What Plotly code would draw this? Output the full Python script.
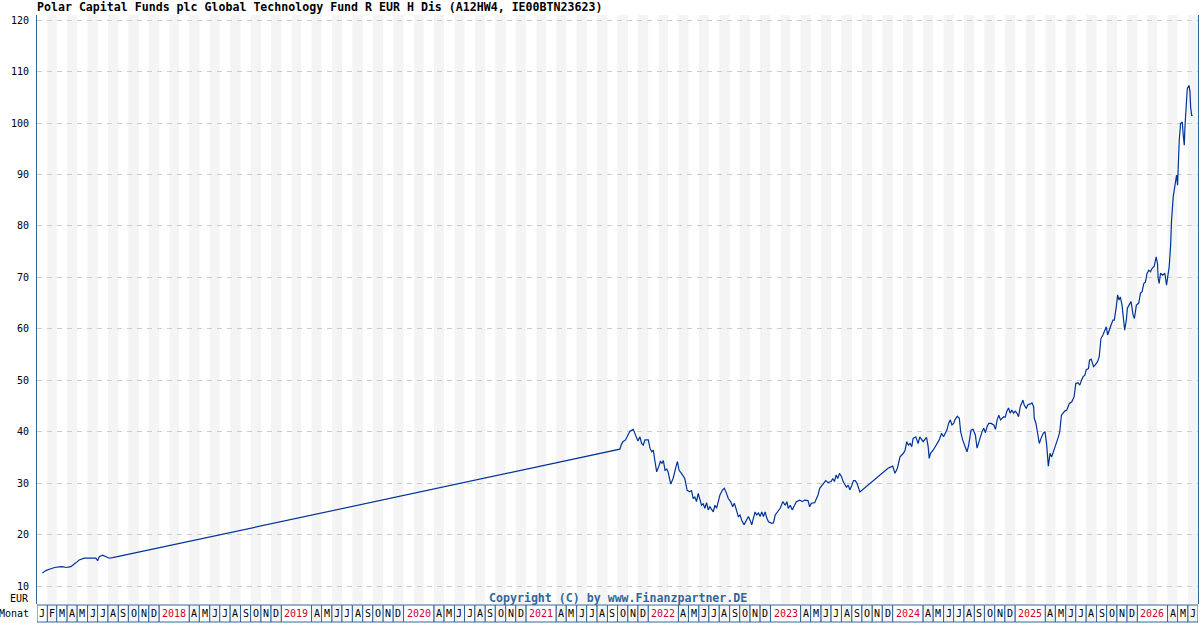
import plotly.graph_objects as go
import pandas as pd

TITLE = "Polar Capital Funds plc Global Technology Fund R EUR H Dis (A12HW4, IE00BTN23623)"
COPYRIGHT = "Copyright (C) by www.Finanzpartner.DE"
MONTH_LETTERS = ["J", "F", "M", "A", "M", "J", "J", "A", "S", "O", "N", "D"]
Y_TICKS = list(range(10, 130, 10))
X_START, X_END = "2017-01-01", "2026-07-01"
Y_RANGE = [6.5, 121]

dates = [
    "2017-01-17", "2017-01-27", "2017-02-09", "2017-02-23", "2017-03-08", "2017-03-18", "2017-03-29",
    "2017-04-12", "2017-04-27", "2017-05-07", "2017-05-22", "2017-06-16", "2017-06-26", "2017-07-01",
    "2017-07-06", "2017-07-16", "2017-07-26", "2017-08-05", "2017-08-15",
    "2021-10-08", "2021-10-12", "2021-10-17", "2021-10-25", "2021-11-02", "2021-11-07", "2021-11-17",
    "2021-11-22", "2021-11-27", "2021-12-01", "2021-12-07", "2021-12-12", "2021-12-17", "2021-12-22",
    "2022-01-01", "2022-01-06", "2022-01-11", "2022-01-16", "2022-01-21", "2022-01-26", "2022-02-01",
    "2022-02-06", "2022-02-11", "2022-02-15", "2022-02-20", "2022-02-25", "2022-03-01", "2022-03-06",
    "2022-03-09", "2022-03-16", "2022-03-21", "2022-03-26", "2022-03-29", "2022-04-03", "2022-04-10",
    "2022-04-20", "2022-04-27", "2022-05-05", "2022-05-10", "2022-05-15", "2022-05-20", "2022-05-25",
    "2022-05-30", "2022-06-04", "2022-06-09", "2022-06-14", "2022-06-19", "2022-06-24", "2022-06-29",
    "2022-07-04", "2022-07-14", "2022-07-19", "2022-07-24", "2022-07-29", "2022-08-03", "2022-08-11",
    "2022-08-16", "2022-08-21", "2022-08-28", "2022-09-04", "2022-09-10", "2022-09-15", "2022-09-22",
    "2022-09-27", "2022-10-02", "2022-10-07", "2022-10-14", "2022-10-20", "2022-10-27", "2022-11-01",
    "2022-11-06", "2022-11-11", "2022-11-16", "2022-11-21", "2022-11-26", "2022-12-01", "2022-12-06",
    "2022-12-11", "2022-12-16", "2022-12-21", "2022-12-26", "2023-01-05", "2023-01-10", "2023-01-15",
    "2023-01-20", "2023-01-30", "2023-02-07", "2023-02-14", "2023-02-19", "2023-02-23", "2023-03-01",
    "2023-03-07", "2023-03-14", "2023-03-19", "2023-03-29", "2023-04-06", "2023-04-13", "2023-04-23",
    "2023-04-28", "2023-05-03", "2023-05-13", "2023-05-18", "2023-05-23", "2023-05-28", "2023-06-02",
    "2023-06-09", "2023-06-15", "2023-06-22", "2023-07-01", "2023-07-06", "2023-07-11", "2023-07-16",
    "2023-07-21", "2023-07-26", "2023-08-01", "2023-08-06", "2023-08-11", "2023-08-16", "2023-08-21",
    "2023-08-26", "2023-09-01", "2023-09-06", "2023-09-11", "2023-09-16", "2023-09-20", "2023-09-25",
    "2023-12-18", "2024-01-01", "2024-01-08", "2024-01-15", "2024-01-23", "2024-02-02", "2024-02-07",
    "2024-02-12", "2024-02-17", "2024-02-22", "2024-02-27", "2024-03-02", "2024-03-10", "2024-03-17",
    "2024-03-22", "2024-03-27", "2024-04-01", "2024-04-11", "2024-04-16", "2024-04-19", "2024-04-23",
    "2024-05-01", "2024-05-11", "2024-05-19", "2024-05-26", "2024-06-01", "2024-06-06", "2024-06-11",
    "2024-06-16", "2024-06-21", "2024-06-26", "2024-07-01", "2024-07-05", "2024-07-12", "2024-07-18",
    "2024-07-22", "2024-07-28", "2024-08-05", "2024-08-10", "2024-08-15", "2024-08-22", "2024-08-28",
    "2024-09-04", "2024-09-09", "2024-09-14", "2024-09-19", "2024-09-24", "2024-09-29", "2024-10-04",
    "2024-10-09", "2024-10-14", "2024-10-21", "2024-10-29", "2024-11-03", "2024-11-08", "2024-11-13",
    "2024-11-18", "2024-11-23", "2024-11-28", "2024-12-02", "2024-12-07", "2024-12-12", "2024-12-17",
    "2024-12-22", "2024-12-27", "2025-01-01", "2025-01-06", "2025-01-11", "2025-01-16", "2025-01-24",
    "2025-01-28", "2025-02-03", "2025-02-07", "2025-02-15", "2025-02-20", "2025-02-25", "2025-02-27",
    "2025-03-04", "2025-03-08", "2025-03-14", "2025-03-19", "2025-03-26", "2025-03-31", "2025-04-05",
    "2025-04-10", "2025-04-15", "2025-04-20", "2025-04-25", "2025-05-05", "2025-05-10", "2025-05-14",
    "2025-05-19", "2025-05-29", "2025-06-04", "2025-06-12", "2025-06-19", "2025-06-26", "2025-07-01",
    "2025-07-08", "2025-07-13", "2025-07-18", "2025-07-23", "2025-07-28", "2025-08-01", "2025-08-08",
    "2025-08-11", "2025-08-16", "2025-08-23", "2025-08-28", "2025-09-04", "2025-09-09", "2025-09-14",
    "2025-09-20", "2025-09-25", "2025-09-30", "2025-10-04", "2025-10-10", "2025-10-14", "2025-10-20",
    "2025-10-24", "2025-10-30", "2025-11-03", "2025-11-07", "2025-11-11", "2025-11-16", "2025-11-19",
    "2025-11-24", "2025-11-29", "2025-12-02", "2025-12-07", "2025-12-13", "2025-12-19", "2025-12-23",
    "2025-12-29", "2026-01-05", "2026-01-10", "2026-01-15", "2026-01-20", "2026-01-25", "2026-01-30",
    "2026-02-04", "2026-02-09", "2026-02-14", "2026-02-20", "2026-02-26", "2026-03-02", "2026-03-04",
    "2026-03-07", "2026-03-11", "2026-03-17", "2026-03-24", "2026-03-29", "2026-04-03", "2026-04-06",
    "2026-04-10", "2026-04-13", "2026-04-18", "2026-04-23", "2026-04-28", "2026-05-01", "2026-05-03",
    "2026-05-06", "2026-05-10", "2026-05-15", "2026-05-18", "2026-05-21", "2026-05-23", "2026-05-26",
    "2026-05-30", "2026-06-04", "2026-06-07", "2026-06-09", "2026-06-12", "2026-06-15",
]

values = [
    12.5, 13.0, 13.3, 13.6, 13.7, 13.75, 13.6,
    13.75, 14.5, 15.05, 15.4, 15.45, 15.4, 14.9,
    15.7, 16.0, 15.7, 15.4, 15.5,
    36.6, 37.4, 38.05, 38.4, 39.35, 40.1, 40.45,
    39.7, 39.0, 38.2, 39.0, 37.7, 37.4, 38.4,
    38.4, 36.8, 36.1, 36.4, 34.2, 32.2, 33.2,
    34.2, 33.85, 34.4, 32.5, 32.7, 32.2, 30.6,
    29.8, 30.9, 32.5, 33.5, 34.2, 32.5, 31.9,
    30.9, 28.6, 28.3, 28.6, 27.0, 27.3, 26.4,
    28.0, 26.7, 25.7, 26.0, 25.1, 26.2, 24.8,
    25.4, 24.4, 25.7, 25.1, 26.4, 27.7, 28.7,
    29.0, 28.3, 27.0, 26.4, 25.4, 26.1, 24.8,
    23.5, 23.8, 22.8, 21.9, 22.8, 23.5, 22.8,
    21.9, 23.2, 24.4, 23.8, 24.2, 23.5, 24.4,
    23.5, 24.4, 23.2, 22.5, 22.2, 22.3, 23.8,
    24.2, 25.1, 26.4, 25.7, 26.4, 25.1, 25.7,
    24.8, 25.7, 26.4, 26.7, 26.4, 26.7, 26.6,
    25.4, 26.1, 26.2, 27.0, 27.7, 29.0, 29.4,
    30.0, 30.5, 30.1, 30.3, 30.9, 30.3, 31.6,
    30.9, 31.9, 31.3, 30.3, 29.6, 29.2, 29.6,
    28.7, 29.6, 30.5, 30.5, 30.0, 29.3, 28.3,
    32.9, 33.3, 31.9, 32.9, 35.1, 35.8, 36.4,
    38.05, 37.4, 37.7, 37.1, 38.7, 39.0, 37.7,
    39.0, 38.5, 38.05, 38.9, 37.1, 34.8, 35.8,
    36.4, 37.4, 38.4, 39.7, 39.0, 39.7, 40.3,
    41.6, 42.3, 41.3, 41.6, 42.3, 43.0, 42.6,
    40.0, 38.4, 37.1, 36.1, 37.4, 40.3, 40.45,
    39.35, 36.8, 38.05, 39.0, 40.0, 40.65, 39.8,
    41.0, 41.6, 41.6, 41.3, 40.45, 42.3, 43.2,
    42.3, 42.6, 42.9, 42.8, 44.0, 44.6, 43.6,
    44.2, 43.6, 44.0, 43.6, 42.9, 44.85, 46.15,
    45.2, 44.5, 45.2, 45.4, 45.6, 44.85, 42.6,
    41.6, 40.0, 37.7, 38.7, 39.7, 40.0, 37.4,
    33.3, 35.8, 35.1, 36.1, 37.7, 39.0, 40.0,
    43.2, 44.0, 44.2, 45.5, 45.8, 46.8, 49.4,
    49.5, 49.05, 50.0, 50.7, 51.0, 52.0, 52.3,
    53.9, 54.1, 52.65, 53.0, 53.6, 54.6, 58.1,
    58.8, 59.75, 60.4, 58.8, 60.1, 60.7, 61.7,
    61.7, 64.3, 66.6, 65.6, 66.2, 64.6, 63.0,
    59.75, 61.7, 64.0, 64.6, 65.3, 62.7, 62.0,
    64.6, 65.0, 66.9, 67.2, 68.8, 69.1, 70.8,
    71.4, 71.1, 71.75, 72.1, 74.0, 72.7, 69.8,
    68.8, 70.8, 70.4, 70.8, 68.5, 70.8, 72.1,
    76.0, 81.1, 85.7, 88.3, 89.9, 87.9, 92.8,
    96.7, 99.9, 100.2, 97.6, 95.7, 99.2, 103.1,
    106.7, 107.3, 106.1, 103.1, 101.5, 101.5,
]

FONT = "DejaVu Sans Mono"
BORDER = "#336699"
STRIPE = "#f4f4f4"
YEAR_RED = "#cc0033"

# geometry of the plot area in pixels (for paper-coordinate conversions)
W, H = 1200, 630
M_L, M_R, M_T, M_B = 37, 2, 15, 26
PH = H - M_T - M_B


def py(pixel_y):
    """pixel y (from top) -> paper y"""
    return (H - M_B - pixel_y) / PH


fig = go.Figure()
fig.add_trace(go.Scatter(x=pd.to_datetime(dates), y=values, mode="lines",
                         line=dict(color="#003399", width=1.2),
                         hoverinfo="x+y", showlegend=False))

months = pd.date_range(X_START, "2026-06-01", freq="MS")
shapes = []
annotations = []

for i, m in enumerate(months):
    nxt = m + pd.DateOffset(months=1)
    if i % 2 == 1:
        shapes.append(dict(type="rect", xref="x", yref="paper", x0=m, x1=nxt, y0=0, y1=1,
                           fillcolor=STRIPE, line=dict(width=0), layer="below"))

box_y0, box_y1 = py(622), py(605)
label_y = py(613.5)
for i, m in enumerate(months):
    if m.year > 2017 and m.month in (2, 3):
        continue
    if m.year > 2017 and m.month == 1:
        x1 = m + pd.DateOffset(months=3)
        text, color, fill = str(m.year), YEAR_RED, "white"
    else:
        x1 = m + pd.DateOffset(months=1)
        text, color = MONTH_LETTERS[m.month - 1], "#000000"
        fill = STRIPE if i % 2 == 1 else "white"
    shapes.append(dict(type="rect", xref="x", yref="paper", x0=m, x1=x1, y0=box_y0, y1=box_y1,
                       fillcolor=fill, line=dict(color=BORDER, width=1), layer="above"))
    mid = m + (x1 - m) / 2
    annotations.append(dict(x=mid, y=label_y, xref="x", yref="paper", text=text, showarrow=False,
                            xanchor="center", yanchor="middle",
                            font=dict(family=FONT, size=10, color=color)))

annotations.append(dict(x=0, y=1, xref="paper", yref="paper", text="<b>" + TITLE + "</b>",
                        showarrow=False, xanchor="left", yanchor="bottom", xshift=-2, yshift=-1,
                        font=dict(family=FONT, size=11.6, color="#000000")))
annotations.append(dict(x=0, y=py(598), xref="paper", yref="paper", text="EUR", showarrow=False,
                        xanchor="right", yanchor="middle", xshift=-6,
                        font=dict(family=FONT, size=10, color="#000000")))
annotations.append(dict(x=0, y=label_y, xref="paper", yref="paper", text="Monat", showarrow=False,
                        xanchor="right", yanchor="middle", xshift=-6,
                        font=dict(family=FONT, size=10, color="#000000")))
annotations.append(dict(x=0.5, y=py(597.5), xref="paper", yref="paper", text="<b>" + COPYRIGHT + "</b>",
                        showarrow=False, xanchor="center", yanchor="middle",
                        font=dict(family=FONT, size=11.6, color=BORDER)))

fig.update_layout(
    width=W, height=H,
    margin=dict(l=M_L, r=M_R, t=M_T, b=M_B, pad=0),
    plot_bgcolor="white", paper_bgcolor="white",
    shapes=shapes, annotations=annotations,
    showlegend=False,
    xaxis=dict(type="date", range=[X_START, X_END], showgrid=False, showticklabels=False,
               showline=False, zeroline=False, ticks=""),
    yaxis=dict(range=Y_RANGE, tickvals=Y_TICKS, showgrid=True, gridcolor="#cccccc",
               griddash="5px,5px", gridwidth=1, zeroline=False,
               showline=True, linecolor=BORDER, linewidth=1, mirror=True,
               ticks="outside", ticklen=5, tickcolor="rgba(0,0,0,0)",
               tickfont=dict(family=FONT, size=10, color="#000000")),
)

fig.write_html("out.html")
